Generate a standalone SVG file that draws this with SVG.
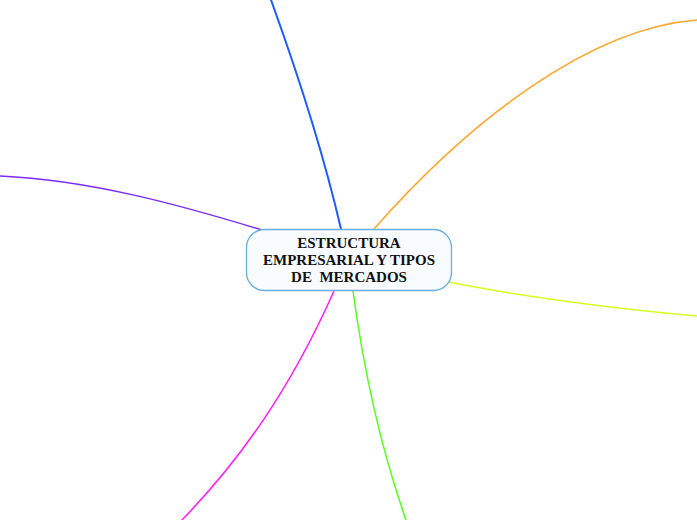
<svg xmlns="http://www.w3.org/2000/svg" width="697" height="520" viewBox="0 0 697 520">
<style>
.c{fill:none;stroke-linecap:round}
.t{font-family:"Liberation Serif","Times New Roman",serif;font-weight:bold;font-size:15px;fill:#111;text-anchor:middle}
</style>
<rect width="697" height="520" fill="#fff"/>
<g id="connectors">
<path class="c" d="M341,229 C325,160 300,80 271,0" stroke="#1f5cff" stroke-width="2"/>
<path class="c" d="M374,229 C470,120 590,28 697,20" stroke="#ffa62b" stroke-width="1.5"/>
<path class="c" d="M262,230 C180,205 90,180 0,176" stroke="#7a2bff" stroke-width="1.5"/>
<path class="c" d="M448,282 C530,298 620,309 697,316" stroke="#d4ff1a" stroke-width="1.5"/>
<path class="c" d="M353,291 C365,380 385,460 406,520" stroke="#55ff1a" stroke-width="1.5"/>
<path class="c" d="M334,291 C290,390 240,460 182,520" stroke="#ff1aff" stroke-width="1.5"/>
</g>
<g id="node-main">
<rect x="246.5" y="229.5" width="205" height="61" rx="18" fill="#f8fcff" stroke="#6aaee0" stroke-width="1.3"/>
<text class="t" x="349" y="248">ESTRUCTURA</text>
<text class="t" x="349" y="265">EMPRESARIAL Y TIPOS</text>
<text class="t" x="349" y="282" xml:space="preserve">DE  MERCADOS</text>
</g>
</svg>
